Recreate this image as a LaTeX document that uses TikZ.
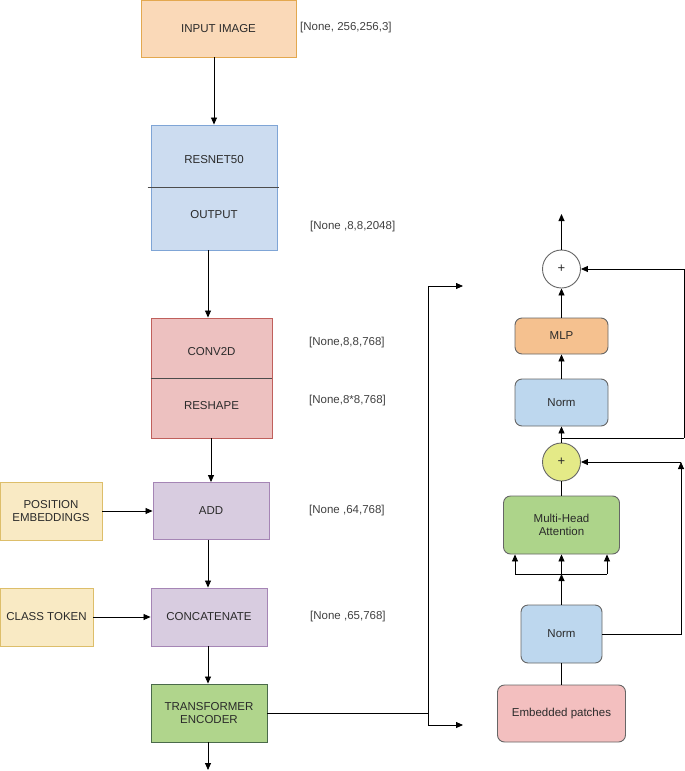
\documentclass[tikz,border=0pt]{standalone}
\usepackage{fontspec}
\setmainfont{Liberation Sans}
\usetikzlibrary{arrows.meta,positioning,calc}
\definecolor{inFill}{HTML}{FAD9B8}
\definecolor{inDraw}{HTML}{E3A84F}
\definecolor{rnFill}{HTML}{CCDCF0}
\definecolor{rnDraw}{HTML}{7FA5D6}
\definecolor{cvFill}{HTML}{EDC1C0}
\definecolor{cvDraw}{HTML}{C0605C}
\definecolor{adFill}{HTML}{D8CCE0}
\definecolor{adDraw}{HTML}{A585B5}
\definecolor{ylFill}{HTML}{F9EAC4}
\definecolor{ylDraw}{HTML}{DDBE6A}
\definecolor{teFill}{HTML}{B0D58C}
\definecolor{teDraw}{HTML}{4A6A4A}
\definecolor{emFill}{HTML}{F3BFBF}
\definecolor{nmFill}{HTML}{BDD7EE}
\definecolor{mhFill}{HTML}{ADD48A}
\definecolor{mlFill}{HTML}{F5C18F}
\definecolor{p1Fill}{HTML}{E4EA87}
\definecolor{grayDraw}{HTML}{666666}
\definecolor{txt}{HTML}{2A2A2A}
\begin{document}
\begin{tikzpicture}[x=1pt,y=-1pt,
  font=\fontsize{11.5}{13.5}\selectfont,
  box/.style={draw, line width=0.9pt, inner sep=0pt, text=txt, align=center},
  rbox/.style={box, rounded corners=7pt, draw=grayDraw},
  lbl/.style={anchor=west, text=black!75, inner sep=0pt},
  arr/.style={-{Triangle[length=7pt,width=6pt]}, line width=0.8pt},
  ln/.style={line width=0.8pt},
  circ/.style={circle, draw=grayDraw, line width=0.9pt, minimum size=38pt, inner sep=0pt, text=txt, font=\fontsize{13}{15}\selectfont}
]
\useasboundingbox (0,0) rectangle (685,771);

% ---- left column ----
\node[box, fill=inFill, draw=inDraw, minimum width=155pt, minimum height=57pt] (input) at (218.5,28.5) {INPUT IMAGE};
\node[lbl] (linput) at (300,28) {[None, 256,256,3]};

\node[box, fill=rnFill, draw=rnDraw, minimum width=126pt, minimum height=125pt] (resnet) at (214,187.5) {};
\draw[line width=0.9pt, draw=black!70] ($(resnet.west)+(-3,0)$) -- ($(resnet.east)+(2,0)$);
\node[text=txt] (tres) at (214,160) {RESNET50};
\node[text=txt] (tout) at (214,215) {OUTPUT};
\node[lbl] (lres) at (310,227) {[None ,8,8,2048]};

\node[box, fill=cvFill, draw=cvDraw, minimum width=121pt, minimum height=120pt] (conv) at (211.5,378) {};
\draw[line width=0.9pt, draw=black!70] (conv.west) -- (conv.east);
\node[text=txt] (tconv) at (211.5,352) {CONV2D};
\node[text=txt] (tresh) at (211.5,406) {RESHAPE};
\node[lbl] (lconv) at (309,343) {[None,8,8,768]};
\node[lbl] (lresh) at (309,401) {[None,8*8,768]};

\node[box, fill=adFill, draw=adDraw, minimum width=116pt, minimum height=57pt] (add) at (211,511) {ADD};
\node[box, fill=ylFill, draw=ylDraw, minimum width=102pt, minimum height=58pt] (pos) at (51,511) {POSITION\\EMBEDDINGS};
\node[lbl] (ladd) at (309,511) {[None ,64,768]};

\node[box, fill=adFill, draw=adDraw, minimum width=116pt, minimum height=58pt] (concat) at (209,617) {CONCATENATE};
\node[box, fill=ylFill, draw=ylDraw, minimum width=93pt, minimum height=58pt] (cls) at (46.5,617) {CLASS TOKEN};
\node[lbl] (lcat) at (310,617) {[None ,65,768]};

\node[box, fill=teFill, draw=teDraw, minimum width=116pt, minimum height=58pt] (te) at (209,713) {TRANSFORMER\\ENCODER};

\coordinate (out) at (208,770);
\coordinate (v) at (428,704);
\coordinate (at) at (463,286);
\coordinate (ab) at (463,725);

\draw[arr] (input.south -| resnet.north) -- (resnet.north);
\draw[arr] ($(resnet.south)+(-6,0)$) -- ($(conv.north)+(-3.5,0)$);
\draw[arr] (conv.south -| add.north) -- (add.north);
\draw[arr] ($(add.south)+(-3,0)$) -- ($(concat.north)+(-1,0)$);
\draw[arr] ($(concat.south)+(-1,0)$) -- ($(te.north)+(-1,0)$);
\draw[arr] ($(te.south)+(-1,0)$) -- (out);
\draw[arr] (pos.east) -- (add.west);
\draw[arr] (cls.east) -- (concat.west);
\draw[ln] (te.east) -- (te.east -| v);
\draw[arr] (te.east -| v) |- (at);
\draw[arr] (te.east -| v) |- (ab);

% ---- right column: encoder block ----
\node[rbox, fill=emFill, minimum width=128pt, minimum height=57pt] (emb) at (561.5,713.5) {Embedded patches};
\node[rbox, fill=nmFill, minimum width=81pt, minimum height=58pt] (norm1) at (561.5,634) {Norm};
\node[rbox, fill=mhFill, minimum width=116pt, minimum height=58pt] (mha) at (561.5,525) {Multi-Head\\Attention};
\node[circ, fill=p1Fill] (plus1) at (561.5,462) {+};
\node[rbox, fill=nmFill, minimum width=93pt, minimum height=47pt] (norm2) at (561.5,402.5) {Norm};
\node[rbox, fill=mlFill, minimum width=93pt, minimum height=36pt] (mlp) at (561.5,336) {MLP};
\node[circ, fill=white] (plus2) at (561.5,269) {+};

\coordinate (top) at (561.5,214);
\coordinate (barc) at (561.5,574);
\coordinate (barl) at (515,574);
\coordinate (barr) at (607,574);
\coordinate (j1) at (681,462);
\coordinate (b2) at (561.5,438);
\coordinate (r2) at (684,438);

\draw[ln] (emb.north) -- (norm1.south);
\draw[arr] (norm1.north) -- (barc);
\draw[ln] (barl) -- (barr);
\draw[arr] (barl) -- (barl |- mha.south);
\draw[arr] (barc) -- (barc |- mha.south);
\draw[arr] (barr) -- (barr |- mha.south);
\draw[ln] (mha.north) -- (plus1.south);
\draw[arr] (plus1.north) -- (norm2.south);
\draw[arr] (norm2.north) -- (mlp.south);
\draw[arr] (mlp.north) -- (plus2.south);
\draw[arr] (plus2.north) -- (top);
\draw[arr] (norm1.east) -| (j1);
\draw[arr] (j1) -- (plus1.east);
\draw[ln] (b2) -- (r2);
\draw[arr] (r2) |- (plus2.east);
\end{tikzpicture}
\end{document}
